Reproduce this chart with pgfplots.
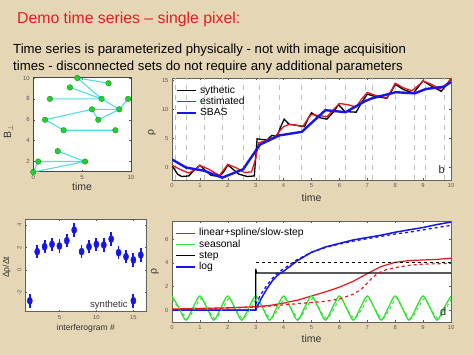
\documentclass[border=0pt]{standalone}
\usepackage{pgfplots}
\usepackage{pgfplotstable}
\pgfplotsset{compat=1.18}
\usepackage{fontspec}
\setmainfont{Liberation Sans}
\definecolor{parch}{RGB}{229,215,182}
\definecolor{titlered}{RGB}{228,28,32}
\definecolor{myred}{RGB}{232,22,28}
\definecolor{myblue}{RGB}{22,22,232}
\definecolor{mygreen}{RGB}{50,225,50}
\definecolor{mycyan}{RGB}{80,222,228}
\definecolor{dotgreen}{RGB}{40,205,50}

\pgfplotstableread{
t v
0 0.3
0.2 -1.2
0.35 -1.6
0.6 -1.5
0.8 -0.5
1.0 0.35
1.2 -0.6
1.4 -1.4
1.7 -1.6
1.85 -0.8
2.0 0.4
2.2 -0.4
2.4 -1.2
2.7 -1.6
2.95 -1.5
3.05 4.9
3.2 4.8
3.4 4.7
3.58 5.5
3.76 5.3
3.9 7.0
4.02 8.3
4.2 7.4
4.4 7.3
4.6 7.1
4.75 7.0
4.9 8.6
5.0 9.4
5.25 8.6
5.55 8.3
5.8 9.6
5.97 10.8
6.2 9.6
6.6 9.5
6.8 11.2
7.0 12.6
7.3 12.2
7.7 11.9
7.9 13.4
8.0 14.3
8.3 13.4
8.65 12.8
8.85 14.0
9.0 14.9
9.3 14.0
9.65 13.1
9.85 14.3
10.0 15.3
}\synth

\pgfplotstableread{
t v
0 0.35
0.3 -0.4
0.6 -1.0
0.8 -0.5
1.0 0.3
1.3 -0.3
1.7 -1.4
2.0 0.5
2.3 -0.1
2.6 -0.9
2.85 -0.8
3.0 1.5
3.1 4.2
3.3 4.5
3.5 4.9
3.7 5.3
3.9 6.5
4.0 7.0
4.2 7.4
4.5 7.2
4.7 7.1
4.9 8.6
5.0 9.1
5.3 8.9
5.55 8.7
5.8 10.0
6.0 11.0
6.3 10.8
6.6 10.4
6.8 11.8
7.0 12.9
7.3 12.4
7.7 12.0
7.9 13.6
8.0 14.5
8.3 13.7
8.6 13.2
8.9 14.4
9.0 14.9
9.3 14.3
9.6 13.5
9.9 14.6
10.0 15.3
}\estim

\pgfplotstableread{
t v
0 1.35
0.5 -0.05
1.15 -0.6
1.8 -1.8
2.55 -0.35
3.15 3.9
3.85 5.5
4.65 6.1
5.5 9.85
6.22 9.5
6.92 11.4
7.17 11.9
8.02 12.95
8.7 12.75
9.1 13.5
9.75 13.9
10 14.7
}\sbas

\pgfplotstableread{
n r e
1 -2.73 0.6
2 1.63 0.6
3 2.07 0.6
4 2.28 0.6
5 2.13 0.6
6 2.6 0.6
7 3.55 0.6
8 1.63 0.6
9 2.07 0.6
10 2.28 0.6
11 2.22 0.6
12 2.75 0.6
13 1.54 0.6
14 1.18 0.6
15 0.89 0.6
15 -2.73 0.6
16 1.33 0.6
}\rates

\pgfplotstableread{
x y
0 1
0.5 2
1.2 6
1.7 8
2.5 3
3.1 5
3.75 9.1
4.5 10
5.3 2
6.0 7
6.65 6
7.0 8
7.7 9.5
8.4 5
8.8 7
9.7 8
}\acq

\pgfplotstableread{
x y
4.5 10
7.7 9.5
nan nan
4.5 10
7.0 8
nan nan
3.75 9.1
7.0 8
nan nan
1.7 8
7.0 8
8.8 7
nan nan
9.7 8
8.8 7
6.0 7
6.65 6
8.8 7
nan nan
6.0 7
1.2 6
3.1 5
8.4 5
nan nan
2.5 3
5.3 2
0.5 2
0 1
5.3 2
}\edges

\pgfplotsset{
 panel/.style={scale only axis, anchor=south west,
  axis background/.style={fill=white},
  axis line style={draw=gray!75!black, line width=0.6pt},
  tick style={gray!70!black, line width=0.4pt},
  tick align=inside, major tick length=2pt,
  ticklabel style={font=\fontsize{5.8}{6}\selectfont, text=black!65},
  /pgf/number format/assume math mode=true,
  label style={font=\fontsize{10.5}{12}\selectfont, text=black!80},
  legend cell align=left,
  legend image code/.code={\draw[##1] (0pt,0pt) -- (19pt,0pt); \path (21.5pt,0pt);},
 },
 leg/.style={legend style={at={(axis description cs:0.012,0.935)}, anchor=north west,
  draw=none, fill=none, inner sep=0pt, row sep=0pt,
  font=\fontsize{10.3}{10}\selectfont,
  nodes={inner sep=0.6pt, text height=7.6pt, text depth=2.4pt}}},
}

\begin{document}
\begin{tikzpicture}
\useasboundingbox (0,0) rectangle (474pt,355pt);
\fill[parch] (0,0) rectangle (474pt,355pt);

\node[anchor=base west, inner sep=0pt, text=titlered, font=\fontsize{15.8}{18}\selectfont] at (17pt,331pt) {Demo time series – single pixel:};
\node[anchor=base west, inner sep=0pt, font=\fontsize{13.2}{15}\selectfont] at (13pt,301pt) {Time series is parameterized physically - not with image acquisition};
\node[anchor=base west, inner sep=0pt, font=\fontsize{13.2}{15}\selectfont] at (13pt,284.3pt) {times - disconnected sets do not require any additional parameters};

% panel a
\begin{axis}[panel, at={(33.3pt,183pt)}, width=97.7pt, height=94pt,
  xmin=0, xmax=10, ymin=1, ymax=10, xtick={0,5,10}, ytick={2,4,6,8,10},
  clip=false, axis line style={draw=gray!55!black, line width=1pt},
  ticklabel style={font=\fontsize{6}{7}\selectfont},
  xlabel={time}, ylabel={B$_\perp$},
  x label style={at={(axis description cs:0.5,-0.199)}, anchor=base},
  y label style={at={(axis description cs:-0.255,0.43)}, anchor=center}]
\addplot[mycyan, line width=1.1pt, unbounded coords=jump] table[x=x,y=y] {\edges};
\addplot[only marks, mark=*, mark size=2.8pt, mark options={fill=dotgreen, draw=green!55!black, line width=0.3pt}] table[x=x,y=y] {\acq};
\end{axis}

% panel b
\begin{axis}[panel, leg, at={(172pt,175pt)}, width=279pt, height=102pt,
  xmin=0, xmax=10, ymin=-2.2, ymax=15.4, xtick={0,...,10}, ytick={0,5,10,15},
  xlabel={time}, ylabel={ρ},
  x label style={at={(axis description cs:0.5,-0.206)}, anchor=base},
  y label style={at={(axis description cs:-0.072,0.47)}, anchor=center}]
\pgfplotsinvokeforeach{0.12,0.5,1.15,1.8,2.55,3.15,3.85,4.65,5.5,6.22,6.92,7.17,8.02,8.7,9.1,9.75}{
 \addplot[forget plot, draw=gray!50, line width=0.8pt, dash pattern=on 4.5pt off 5.5pt] coordinates {(#1,-2.2) (#1,15.4)};
}
\addplot[black, line width=1.3pt] table[x=t,y=v] {\synth};
\addplot[myred, line width=1.3pt] table[x=t,y=v] {\estim};
\addplot[myblue, line width=2.4pt] table[x=t,y=v] {\sbas};
\legend{sythetic, estimated, SBAS}
\node[font=\fontsize{11}{12}\selectfont, text=black!85] at (axis description cs:0.967,0.105) {b};
\end{axis}

% panel c
\begin{axis}[panel, at={(25pt,43.3pt)}, width=121.7pt, height=92.4pt,
  xmin=0.35, xmax=16.8, ymin=-3.7, ymax=4.5, xtick={5,10,15}, ytick={-2,0,2,4},
  yticklabel style={rotate=90, anchor=south},
  xlabel={interferogram \#}, ylabel={Δρ/Δt},
  x label style={font=\fontsize{8.6}{10}\selectfont, at={(axis description cs:0.5,-0.2)}, anchor=base},
  y label style={font=\fontsize{8.6}{10}\selectfont, at={(axis description cs:-0.15,0.48)}, anchor=center}]
\addplot[only marks, myblue, mark=*, mark size=2.9pt, mark options={xscale=0.9, yscale=1.25},
  error bars/.cd, y dir=both, y explicit, error mark=none,
  error bar style={line width=1.8pt, myblue}] table[x=n, y=r, y error=e] {\rates};
\node[font=\fontsize{9.5}{10}\selectfont, text=black!80] at (axis description cs:0.69,0.075) {synthetic};
\end{axis}

% panel d
\begin{axis}[panel, leg, at={(172pt,33pt)}, width=279pt, height=101pt,
  xmin=0, xmax=10, ymin=-1, ymax=7.55, xtick={0,...,10}, ytick={0,2,4,6},
  xlabel={time}, ylabel={ρ},
  x label style={at={(axis description cs:0.5,-0.203)}, anchor=base},
  y label style={at={(axis description cs:-0.061,0.5)}, anchor=center}]
\addplot[myred, line width=1.2pt] coordinates {(0,0.1) (1,0.15) (2,0.2) (3,0.3) (3.5,0.4) (4,0.6) (4.5,0.85) (5,1.2) (5.5,1.55) (6,1.95) (6.5,2.45) (7,3.1) (7.5,3.7) (8,4.05) (8.5,4.2) (9,4.25) (9.5,4.3) (10,4.4)};
\addplot[mygreen, line width=1.3pt, smooth] coordinates {(0,1.2) (0.25,0.2) (0.5,-0.85) (0.75,0.2) (1,1.2) (1.25,0.2) (1.5,-0.85) (1.75,0.2) (2,1.2) (2.25,0.2) (2.5,-0.85) (2.75,0.2) (3,1.2) (3.25,0.2) (3.5,-0.85) (3.75,0.2) (4,1.2) (4.25,0.2) (4.5,-0.85) (4.75,0.2) (5,1.2) (5.25,0.2) (5.5,-0.85) (5.75,0.2) (6,1.2) (6.25,0.2) (6.5,-0.85) (6.75,0.2) (7,1.2) (7.25,0.2) (7.5,-0.85) (7.75,0.2) (8,1.2) (8.25,0.2) (8.5,-0.85) (8.75,0.2) (9,1.2) (9.25,0.2) (9.5,-0.85) (9.75,0.2) (10,1.2)};
\addplot[black, line width=1.2pt] coordinates {(0,0) (3,0) (3,3.5) (3.03,3.15) (10,3.15)};
\addplot[myblue, line width=1.5pt] coordinates {(0,0) (3,0) (3.05,0.3) (3.2,1.0) (3.4,1.8) (3.6,2.5) (3.8,3.0) (4,3.3) (4.5,4.2) (5,4.9) (5.5,5.35) (6,5.65) (6.5,5.95) (7,6.15) (7.5,6.35) (8,6.6) (8.5,6.8) (9,7.0) (9.5,7.25) (10,7.46)};
\legend{linear+spline/slow-step, seasonal, step, log}
\addplot[forget plot, mygreen, line width=1pt, smooth, dashed] coordinates {(0,0.95) (0.3,0.0) (0.55,-0.7) (0.8,0.1) (1.05,1.0) (1.3,0.0) (1.55,-0.7) (1.8,0.1) (2.05,1.0) (2.3,0.0) (2.55,-0.7) (2.8,0.1) (3.05,1.0) (3.3,0.0) (3.55,-0.7) (3.8,0.1) (4.05,1.0) (4.3,0.0) (4.55,-0.7) (4.8,0.1) (5.05,1.0) (5.3,0.0) (5.55,-0.7) (5.8,0.1) (6.05,1.0) (6.3,0.0) (6.55,-0.7) (6.8,0.1) (7.05,1.0) (7.3,0.0) (7.55,-0.7) (7.8,0.1) (8.05,1.0) (8.3,0.0) (8.55,-0.7) (8.8,0.1) (9.05,1.0) (9.3,0.0) (9.55,-0.7) (9.8,0.1) (10,0.9)};
\addplot[forget plot, myred, line width=1.2pt, dashed] coordinates {(0,0.05) (3,0.25) (3.5,0.35) (4,0.45) (4.5,0.55) (5,0.65) (5.5,0.75) (6,0.95) (6.5,1.35) (6.8,1.8) (7,2.3) (7.2,2.8) (7.4,3.15) (7.7,3.45) (8,3.6) (8.5,3.8) (9,3.9) (9.5,3.93) (10,3.97)};
\addplot[forget plot, black, line width=1.2pt, dashed] coordinates {(3,4.02) (10,4.02)};
\addplot[forget plot, myblue, line width=1.3pt, dashed] coordinates {(3,0.5) (3.2,1.4) (3.4,2.1) (3.6,2.7) (3.8,3.2) (4,3.5) (4.5,4.3) (5,4.9) (5.5,5.3) (6,5.6) (6.5,5.85) (7,6.05) (7.5,6.25) (8,6.45) (8.5,6.6) (9,6.8) (9.5,7.0) (10,7.17)};
\node[font=\fontsize{11}{12}\selectfont, text=black!85] at (axis description cs:0.972,0.1) {d};
\end{axis}
\end{tikzpicture}
\end{document}
